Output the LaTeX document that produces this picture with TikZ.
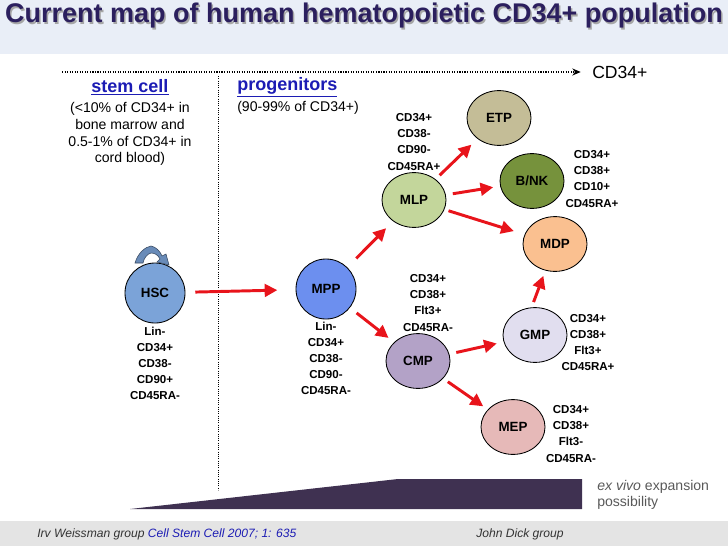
\documentclass[tikz,border=0pt]{standalone}
\usepackage{fontspec}
\setmainfont{Liberation Sans}
\usetikzlibrary{shapes.geometric,arrows.meta}

\definecolor{titleblue}{HTML}{2B1F5E}
\definecolor{headerbg}{HTML}{E9EEF7}
\definecolor{footerbg}{HTML}{E4E4E4}
\definecolor{linkblue}{HTML}{1C1CB4}
\definecolor{arrowred}{HTML}{E8141B}
\definecolor{wedgepurple}{HTML}{3F3151}
\definecolor{hscblue}{HTML}{7BA3D8}
\definecolor{mppblue}{HTML}{6C8FEF}
\definecolor{mlpgreen}{HTML}{C3D69B}
\definecolor{etpkhaki}{HTML}{C4BD97}
\definecolor{bnkgreen}{HTML}{76923C}
\definecolor{mdppeach}{HTML}{FAC090}
\definecolor{gmplilac}{HTML}{E1DEEF}
\definecolor{cmppurple}{HTML}{B3A2C7}
\definecolor{meppink}{HTML}{E6B9B8}

\begin{document}
\begin{tikzpicture}[x=0.025cm,y=-0.025cm,
	cell/.style={ellipse,draw=black,line width=0.6pt,inner sep=0pt,minimum width=1.6cm,minimum height=1.37cm,font=\bfseries\fontsize{9.5}{11}\selectfont},
	round-cell/.style={cell,circle,minimum size=1.5cm},
	markers/.style={align=center,inner sep=0pt,font=\bfseries\fontsize{8.2}{11.4}\selectfont},
	lineage/.style={draw=arrowred,line width=2.1pt,-{Triangle[length=9pt,width=9pt]},shorten <=5pt,shorten >=5pt},
	section/.style={inner sep=0pt,text=linkblue,font=\bfseries\fontsize{12.8}{14}\selectfont},
	note/.style={inner sep=0pt,align=center,font=\fontsize{10}{11.9}\selectfont}]
	\useasboundingbox (0,0) rectangle (728,546);
	\fill[headerbg] (0,0) rectangle (728,54);
	\fill[footerbg] (0,521) rectangle (728,546);

	\node[text=gray!70,font=\bfseries\fontsize{19.2}{22}\selectfont] (title-shadow) at (365.5,17.5) {Current map of human hematopoietic CD34+ population};
	\node[text=titleblue,font=\bfseries\fontsize{19.2}{22}\selectfont] (title) at (364,16) {Current map of human hematopoietic CD34+ population};

	\coordinate (axis-start) at (62,72);
	\node[anchor=west,inner sep=0pt,font=\fontsize{12.5}{14}\selectfont] (cd34-axis) at (592,72) {CD34+};
	\draw[densely dotted,line width=0.8pt,-{Stealth[length=6pt,width=5pt]}] (axis-start) -- ([xshift=-8pt]cd34-axis.west);
	\coordinate (split-top) at (218,76);
	\coordinate (split-bottom) at (218,490);
	\draw[densely dotted,line width=0.6pt] (split-top) -- (split-bottom);

	\node[section] (stem-cell) at (130,87) {\underline{stem cell}};
	\node[note] (stem-note) at (130,134) {(<10\% of CD34+ in\\bone marrow and\\0.5-1\% of CD34+ in\\cord blood)};
	\node[section,anchor=west] (progenitors) at (237,87) {\underline{progenitors}};
	\node[note,anchor=west] (prog-note) at (237,108) {(90-99\% of CD34+)};

	\node[round-cell,fill=hscblue] (hsc) at (155,293) {HSC};
	\node[round-cell,fill=mppblue] (mpp) at (326,289) {MPP};
	\node[cell,fill=mlpgreen] (mlp) at (414,200) {MLP};
	\node[cell,fill=etpkhaki] (etp) at (499,118) {ETP};
	\node[cell,fill=bnkgreen] (bnk) at (532,181) {B/NK};
	\node[cell,fill=mdppeach] (mdp) at (555,244) {MDP};
	\node[cell,fill=gmplilac] (gmp) at (535,335) {GMP};
	\node[cell,fill=cmppurple] (cmp) at (418,361) {CMP};
	\node[cell,fill=meppink] (mep) at (513,427) {MEP};

	\node[markers] (hsc-markers) at (155,363.5) {Lin-\\CD34+\\CD38-\\CD90+\\CD45RA-};
	\node[markers] (mpp-markers) at (326,358) {Lin-\\CD34+\\CD38-\\CD90-\\CD45RA-};
	\node[markers] (mlp-markers) at (414,142) {CD34+\\CD38-\\CD90-\\CD45RA+};
	\node[markers] (bnk-markers) at (592,179) {CD34+\\CD38+\\CD10+\\CD45RA+};
	\node[markers] (cmp-markers) at (428,303) {CD34+\\CD38+\\Flt3+\\CD45RA-};
	\node[markers] (gmp-markers) at (588,342.5) {CD34+\\CD38+\\Flt3+\\CD45RA+};
	\node[markers] (mep-markers) at (571,434) {CD34+\\CD38+\\Flt3-\\CD45RA-};

	\filldraw[fill=hscblue!85!black,draw=hscblue!45!black,line width=0.4pt] (135,263) .. controls (138,253) and (145,247) .. (151,246) .. controls (156,247) and (160,251) .. (162,256) -- (166,254) -- (169,265) -- (157,262) -- (160,259) .. controls (158,255) and (155,253) .. (151,253) .. controls (147,254) and (144,258) .. (143,263) -- cycle;

	\draw[lineage,shorten <=7pt,shorten >=13pt] (hsc) -- (mpp);
	\draw[lineage,shorten <=9pt,shorten >=7pt] (mpp) -- (mlp);
	\draw[lineage,shorten <=6pt,shorten >=5pt] (mpp) -- (cmp);
	\draw[lineage,shorten <=4pt,shorten >=6pt] (mlp) -- (etp);
	\draw[lineage] (mlp) -- (bnk);
	\draw[lineage,shorten <=3pt,shorten >=8pt] (mlp) -- (mdp);
	\draw[lineage] (cmp) -- (gmp);
	\draw[lineage,shorten <=4pt,shorten >=4pt] (cmp) -- (mep);
	\draw[lineage,shorten <=4pt,shorten >=4pt] (gmp.97) -- (mdp.250);

	\fill[wedgepurple] (130,509) -- (398,479) -- (582,479) -- (582,509) -- cycle;
	\node[anchor=west,align=left,inner sep=0pt,text=black!65,font=\fontsize{10}{11.4}\selectfont] (expansion) at (597,495) {\textit{ex vivo} expansion\\possibility};

	\node[anchor=west,inner sep=0pt,font=\itshape\fontsize{8.6}{10}\selectfont,text=black!80] (weissman) at (37,534) {Irv Weissman group \textcolor{linkblue}{Cell Stem Cell 2007; 1: 635}};
	\node[anchor=west,inner sep=0pt,font=\itshape\fontsize{8.6}{10}\selectfont,text=black!80] (dick) at (476,534) {John Dick group};
\end{tikzpicture}
\end{document}
